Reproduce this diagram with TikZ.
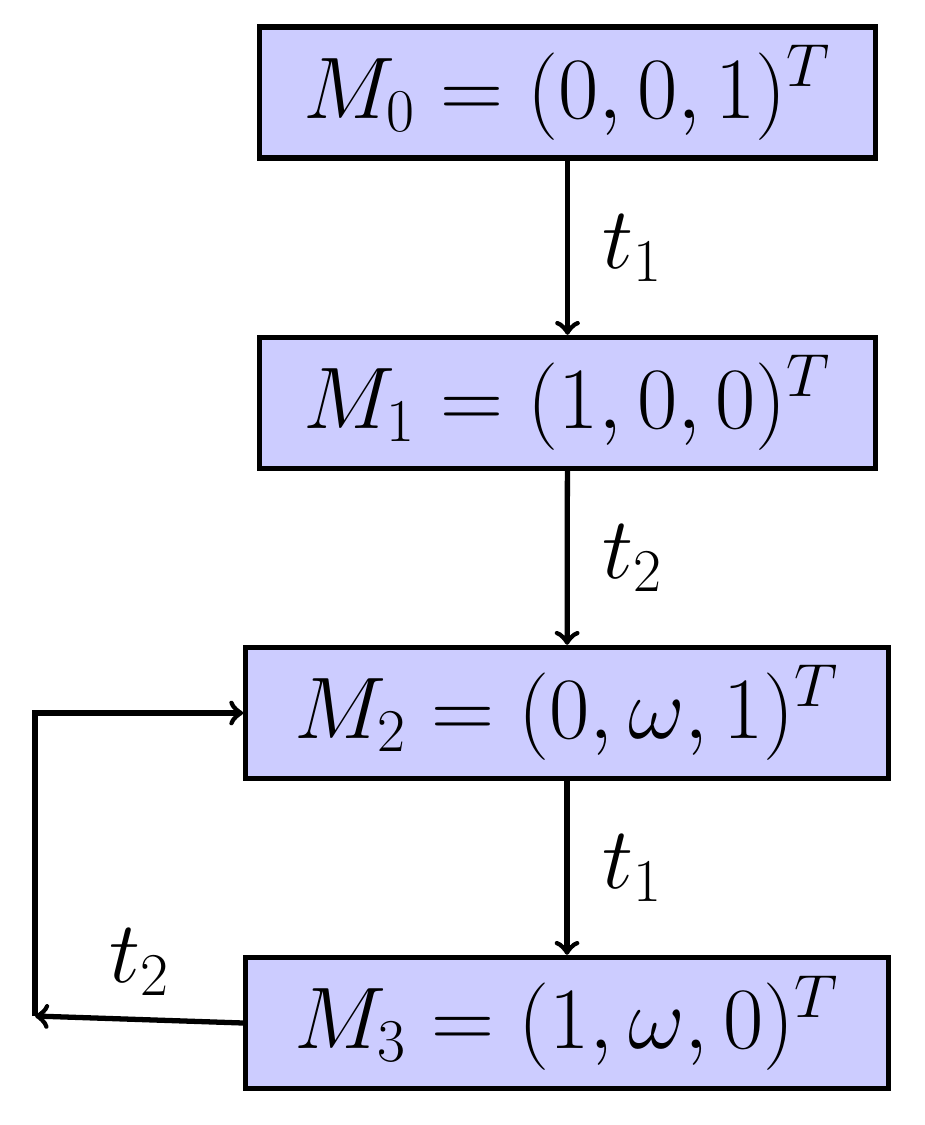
\documentclass[tikz,border=0pt]{standalone}
\begin{document}
\begin{tikzpicture}[x=0.01cm,y=-0.01cm,
  mbox/.style={draw,line width=1.5pt,fill=blue!20,inner sep=0pt,font=\fontsize{23}{28}\selectfont},
  conn/.style={line width=1.5pt,->},
  lbl/.style={font=\fontsize{23}{28}\selectfont}]
\useasboundingbox (0,0) rectangle (925,1125);
\node[mbox,minimum width=615\pgflinewidth*0+6.15cm,minimum height=1.31cm] (m0) at (567.5,92.5) {$M_0=(0,0,1)^T$};
\node[mbox,minimum width=6.15cm,minimum height=1.31cm] (m1) at (567.5,403) {$M_1=(1,0,0)^T$};
\node[mbox,minimum width=6.42cm,minimum height=1.31cm] (m2) at (567,713) {$M_2=(0,\omega,1)^T$};
\node[mbox,minimum width=6.42cm,minimum height=1.31cm] (m3) at (567,1023) {$M_3=(1,\omega,0)^T$};
\coordinate (l) at (35,1016);
\draw[conn] (m0) -- (m1) node[lbl,midway,right=6pt] {$t_1$};
\draw[conn] (m1) -- (m2) node[lbl,midway,right=6pt] {$t_2$};
\draw[conn] (m2) -- (m3) node[lbl,midway,right=6pt] {$t_1$};
\draw[conn] (m3.west) -- (l);
\draw[conn] (l) |- (m2.west);
\node[lbl] (t4) at (140,962) {$t_2$};
\end{tikzpicture}
\end{document}
